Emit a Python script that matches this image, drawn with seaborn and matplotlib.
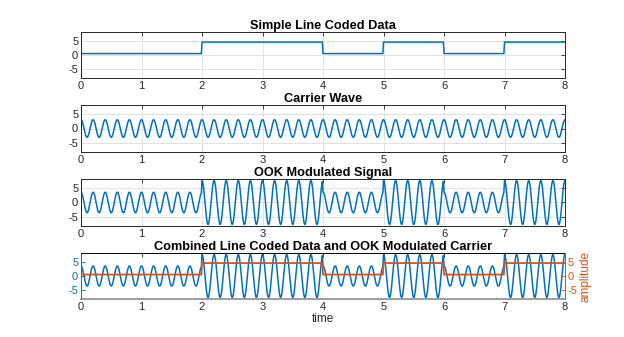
import numpy as np
import pandas as pd
import matplotlib
matplotlib.use("Agg")
import matplotlib.pyplot as plt
import seaborn as sns

# ---- data ----
bits = [0, 0, 1, 1, 0, 1, 0, 1]            # one bit per time unit (0..8)
line_levels = [0.5, 4.5]                    # line-coded level for bit 0 / bit 1
carrier_amplitude = 3.0
carrier_freq = 5.0                          # cycles per time unit
ook_amplitudes = [3.5, 7.5]                 # modulated amplitude for bit 0 / bit 1
x_ticks = [0, 1, 2, 3, 4, 5, 6, 7, 8]
y_ticks = [-5, 0, 5]
titles = ["Simple Line Coded Data", "Carrier Wave", "OOK Modulated Signal",
          "Combined Line Coded Data and OOK Modulated Carrier"]

BLUE = "#0072BD"
ORANGE = "#D95319"
DARK = "#262626"

# ---- build signals from the values above ----
t = np.linspace(0, len(bits), 100 * len(bits) + 1)
idx = np.clip(np.floor(t).astype(int), 0, len(bits) - 1)
b = np.array(bits)[idx]
phase = np.cos(2 * np.pi * carrier_freq * t)
df = pd.DataFrame({
    "time": t,
    "coded": np.array(line_levels)[b],
    "carrier": carrier_amplitude * phase,
    "ook": np.array(ook_amplitudes)[b] * phase,
})

sns.set_style("white")
plt.rcParams["font.family"] = ["Liberation Sans", "DejaVu Sans"]
plt.rcParams["axes.unicode_minus"] = False

TICK_FS = 8
TITLE_FS = 9.2

fig = plt.figure(figsize=(6.24, 3.37), dpi=100)
W, H = 624.0, 337.0
left, right = 81 / W, 565 / W
boxes = [(32, 78), (105, 152), (179, 226), (253, 299)]
axes = []
for top, bot in boxes:
    axes.append(fig.add_axes([left, 1 - bot / H, right - left, (bot - top) / H]))


def style(ax, grid=True):
    ax.set_xlim(0, 8)
    ax.set_ylim(-8, 8)
    ax.set_xticks(x_ticks)
    ax.set_yticks(y_ticks)
    ax.tick_params(direction="in", length=3, width=0.6, top=True, right=True,
                   labelsize=TICK_FS, colors=DARK, pad=2)
    if grid:
        ax.grid(True, color="#e2e2e2", lw=0.7)
    ax.set_axisbelow(True)
    for s in ax.spines.values():
        s.set_color(DARK)
        s.set_linewidth(0.7)
    ax.set_xlabel("")
    ax.set_ylabel("")


cols = ["coded", "carrier", "ook"]
for ax, col, title in zip(axes[:3], cols, titles[:3]):
    sns.lineplot(data=df, x="time", y=col, ax=ax, color=BLUE, lw=1.1,
                 estimator=None, sort=False)
    style(ax)
    ax.set_title(title, fontsize=TITLE_FS, fontweight="bold", pad=2, color="black")

# combined panel with two y axes
ax4 = axes[3]
sns.lineplot(data=df, x="time", y="ook", ax=ax4, color=BLUE, lw=1.1,
             estimator=None, sort=False)
style(ax4, grid=False)
ax4.tick_params(axis="y", colors=BLUE, right=False)
ax4.tick_params(axis="x", colors=DARK)
ax4.spines["left"].set_color(BLUE)
ax4.spines["bottom"].set_color("#8c8c8c")
ax4.spines["bottom"].set_linewidth(1.2)
ax4.spines["top"].set_color("black")
ax4.set_title(titles[3], fontsize=TITLE_FS, fontweight="bold", pad=2, color="black")
ax4.set_xlabel("time", fontsize=8.5, color=DARK, labelpad=1)

ax4r = ax4.twinx()
sns.lineplot(data=df, x="time", y="coded", ax=ax4r, color=ORANGE, lw=1.3,
             estimator=None, sort=False)
ax4r.set_ylim(-8, 8)
ax4r.set_yticks(y_ticks)
ax4r.tick_params(axis="y", direction="in", length=3, width=0.6, colors=ORANGE,
                 labelsize=TICK_FS, pad=2)
for name, s in ax4r.spines.items():
    s.set_visible(name == "right")
ax4r.spines["right"].set_color(ORANGE)
ax4r.spines["right"].set_linewidth(0.7)
ax4r.set_ylabel("amplitude", fontsize=8.5, color=ORANGE, labelpad=1)
ax4r.set_xlabel("")

fig.savefig("out.png", dpi=100)
